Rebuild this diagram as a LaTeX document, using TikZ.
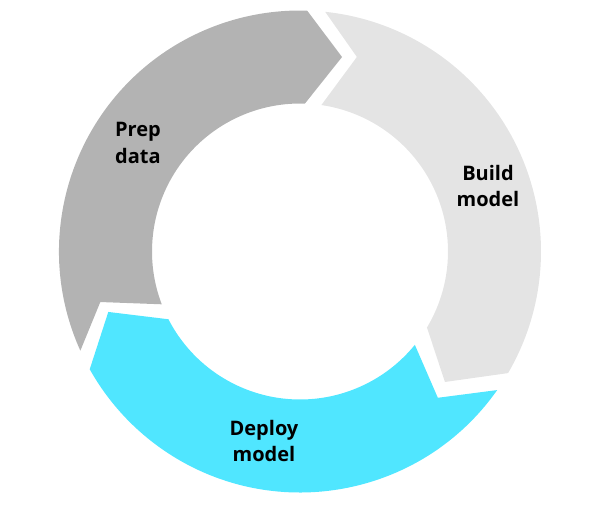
\documentclass[tikz,border=0pt]{standalone}
\usepackage{fontspec}
\setmainfont{Open Sans}
\definecolor{prepgray}{HTML}{B3B3B3}
\definecolor{buildgray}{HTML}{E4E4E4}
\definecolor{deploycyan}{HTML}{50E6FF}
\begin{document}
\begin{tikzpicture}[scale=0.0263594,
  prepseg/.style={fill=prepgray},
  buildseg/.style={fill=buildgray},
  deployseg/.style={fill=deploycyan},
  lbl/.style={font=\fontsize{15}{20}\selectfont\bfseries, align=center, text=black}]
\useasboundingbox (-300,251.5) rectangle (290,-262.5);
\fill[prepseg] (204.3:241) arc[start angle=204.3,end angle=88.3,radius=241] -- (77.8:199) -- (88.1:148) arc[start angle=88.1,end angle=200.9,radius=148] -- (194.2:206) -- cycle;
\fill[buildseg] (84:241) arc[start angle=84,end angle=-30.3,radius=241] -- (-42:195) -- (-30.9:148) arc[start angle=-30.9,end angle=81.7,radius=148] -- (73.7:202.7) -- cycle;
\fill[deployseg] (-35.1:241) arc[start angle=-35.1,end angle=-150.75,radius=241] -- (-162.5:201) -- (-152.75:148) arc[start angle=-152.75,end angle=-39.1,radius=148] -- (-46.7:201) -- cycle;
\node[lbl] (prep) at (-162,108.5) {Prep\\data};
\node[lbl] (build) at (188,65.5) {Build\\model};
\node[lbl] (deploy) at (-36,-189.5) {Deploy\\model};
\end{tikzpicture}
\end{document}
